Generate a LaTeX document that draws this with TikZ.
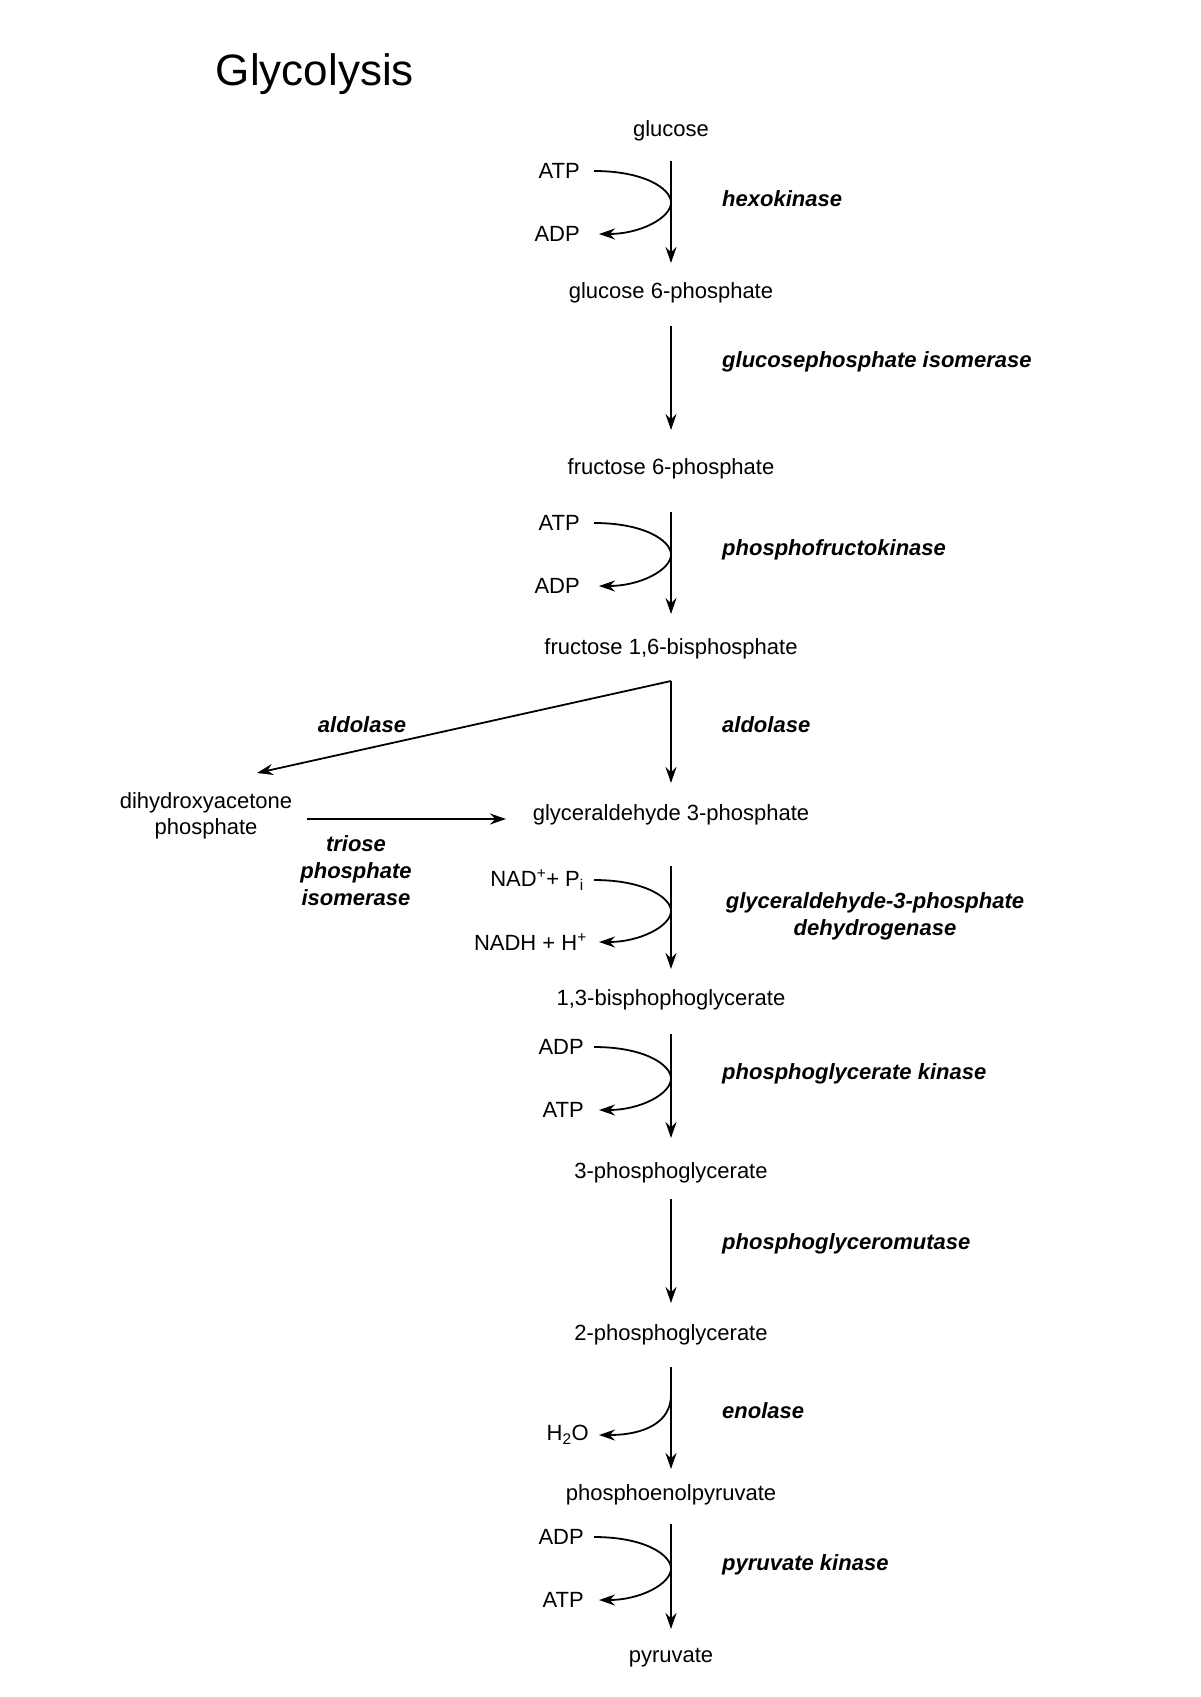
\documentclass[tikz,border=0pt]{standalone}
\usepackage{fontspec}
\setmainfont{Liberation Sans}
\usetikzlibrary{arrows.meta}
\begin{document}
\begin{tikzpicture}[x=1pt,y=-1pt,
  lbl/.style={font=\fontsize{22}{24}\selectfont, inner sep=0pt},
  enz/.style={font=\fontsize{22}{27}\selectfont\bfseries\itshape, inner sep=0pt, anchor=west, align=center},
  rx/.style={line width=1.8pt, -{Stealth[length=16pt,width=11pt]}},
  side/.style={line width=1.8pt, -{Stealth[length=16pt,width=11pt]}}]
\useasboundingbox (0,0) rectangle (1200,1697);
\node[font=\fontsize{44}{48}\selectfont, inner sep=0pt] (title) at (315,74) {Glycolysis};
% metabolites
\node[lbl] (m1) at (671,131) {glucose};
\node[lbl] (m2) at (671,293) {glucose 6-phosphate};
\node[lbl] (m3) at (671,469) {fructose 6-phosphate};
\node[lbl] (m4) at (671,649) {fructose 1,6-bisphosphate};
\node[lbl] (m5) at (671,815) {glyceraldehyde 3-phosphate};
\node[lbl, align=center] (dhap) at (206,816) {dihydroxyacetone\\[2pt]phosphate};
\node[lbl] (m6) at (671,1000) {1,3-bisphophoglycerate};
\node[lbl] (m7) at (671,1173) {3-phosphoglycerate};
\node[lbl] (m8) at (671,1335) {2-phosphoglycerate};
\node[lbl] (m9) at (671,1495) {phosphoenolpyruvate};
\node[lbl] (m10) at (671,1658) {pyruvate};
% arrow ends
\coordinate (a1t) at (671,161); \coordinate (a1b) at (671,263);
\coordinate (a2t) at (671,326); \coordinate (a2b) at (671,430);
\coordinate (a3t) at (671,512); \coordinate (a3b) at (671,614);
\coordinate (a4t) at (671,681); \coordinate (a4b) at (671,783);
\coordinate (a5t) at (671,866); \coordinate (a5b) at (671,969);
\coordinate (a6t) at (671,1034); \coordinate (a6b) at (671,1138);
\coordinate (a7t) at (671,1199); \coordinate (a7b) at (671,1303);
\coordinate (a8t) at (671,1367); \coordinate (a8b) at (671,1469);
\coordinate (a9t) at (671,1524); \coordinate (a9b) at (671,1629);
\coordinate (dl) at (257,773);
\coordinate (ht) at (307,819); \coordinate (hb) at (506,819);
\foreach \i in {1,...,9} {\draw[rx] (a\i t) -- (a\i b);}
\draw[rx] (a4t) -- (dl);
\draw[rx] (ht) -- (hb);
% side curves
\newcommand{\sidecurve}[3]{%
  \coordinate (s#1a) at (594,#2); \coordinate (s#1b) at (599,#3);
  \draw[side] (s#1a) .. controls (645,#2) and (671,#2+18) .. (671,{(#2+#3)/2}) .. controls (671,#3-16) and (640,#3) .. (s#1b);}
\sidecurve{1}{171}{234}
\node[lbl, anchor=east] (atp1) at (580,171) {ATP};
\node[lbl, anchor=east] (adp1) at (580,234) {ADP};
\sidecurve{3}{523}{586}
\node[lbl, anchor=east] (atp3) at (580,523) {ATP};
\node[lbl, anchor=east] (adp3) at (580,586) {ADP};
\sidecurve{5}{880}{942}
\node[lbl, anchor=east] (nad) at (584,880) {NAD\textsuperscript{+}+ P\textsubscript{i}};
\node[lbl, anchor=east] (nadh) at (587,942) {NADH + H\textsuperscript{+}};
\sidecurve{6}{1047}{1110}
\node[lbl, anchor=east] (adp6) at (584,1047) {ADP};
\node[lbl, anchor=east] (atp6) at (584,1110) {ATP};
\sidecurve{9}{1537}{1600}
\node[lbl, anchor=east] (adp9) at (584,1537) {ADP};
\node[lbl, anchor=east] (atp9) at (584,1600) {ATP};
\coordinate (eh) at (599,1435);
\draw[side] (671,1395) .. controls (671,1422) and (645,1435) .. (eh);
\node[lbl, anchor=east] (h2o) at (589,1435) {H\textsubscript{2}O};
% enzymes
\node[enz] (e1) at (722,199) {hexokinase};
\node[enz] (e2) at (722,362) {glucosephosphate isomerase};
\node[enz] (e3) at (722,550) {phosphofructokinase};
\node[enz] (e4) at (722,725) {aldolase};
\node[enz, anchor=center] (e4l) at (362,725) {aldolase};
\node[enz, anchor=center] (tpi) at (356,871) {triose\\phosphate\\isomerase};
\node[enz, anchor=center] (e5) at (875,916) {glyceraldehyde-3-phosphate\\dehydrogenase};
\node[enz] (e6) at (722,1074) {phosphoglycerate kinase};
\node[enz] (e7) at (722,1244) {phosphoglyceromutase};
\node[enz] (e8) at (722,1411) {enolase};
\node[enz] (e9) at (722,1565) {pyruvate kinase};
\end{tikzpicture}
\end{document}
